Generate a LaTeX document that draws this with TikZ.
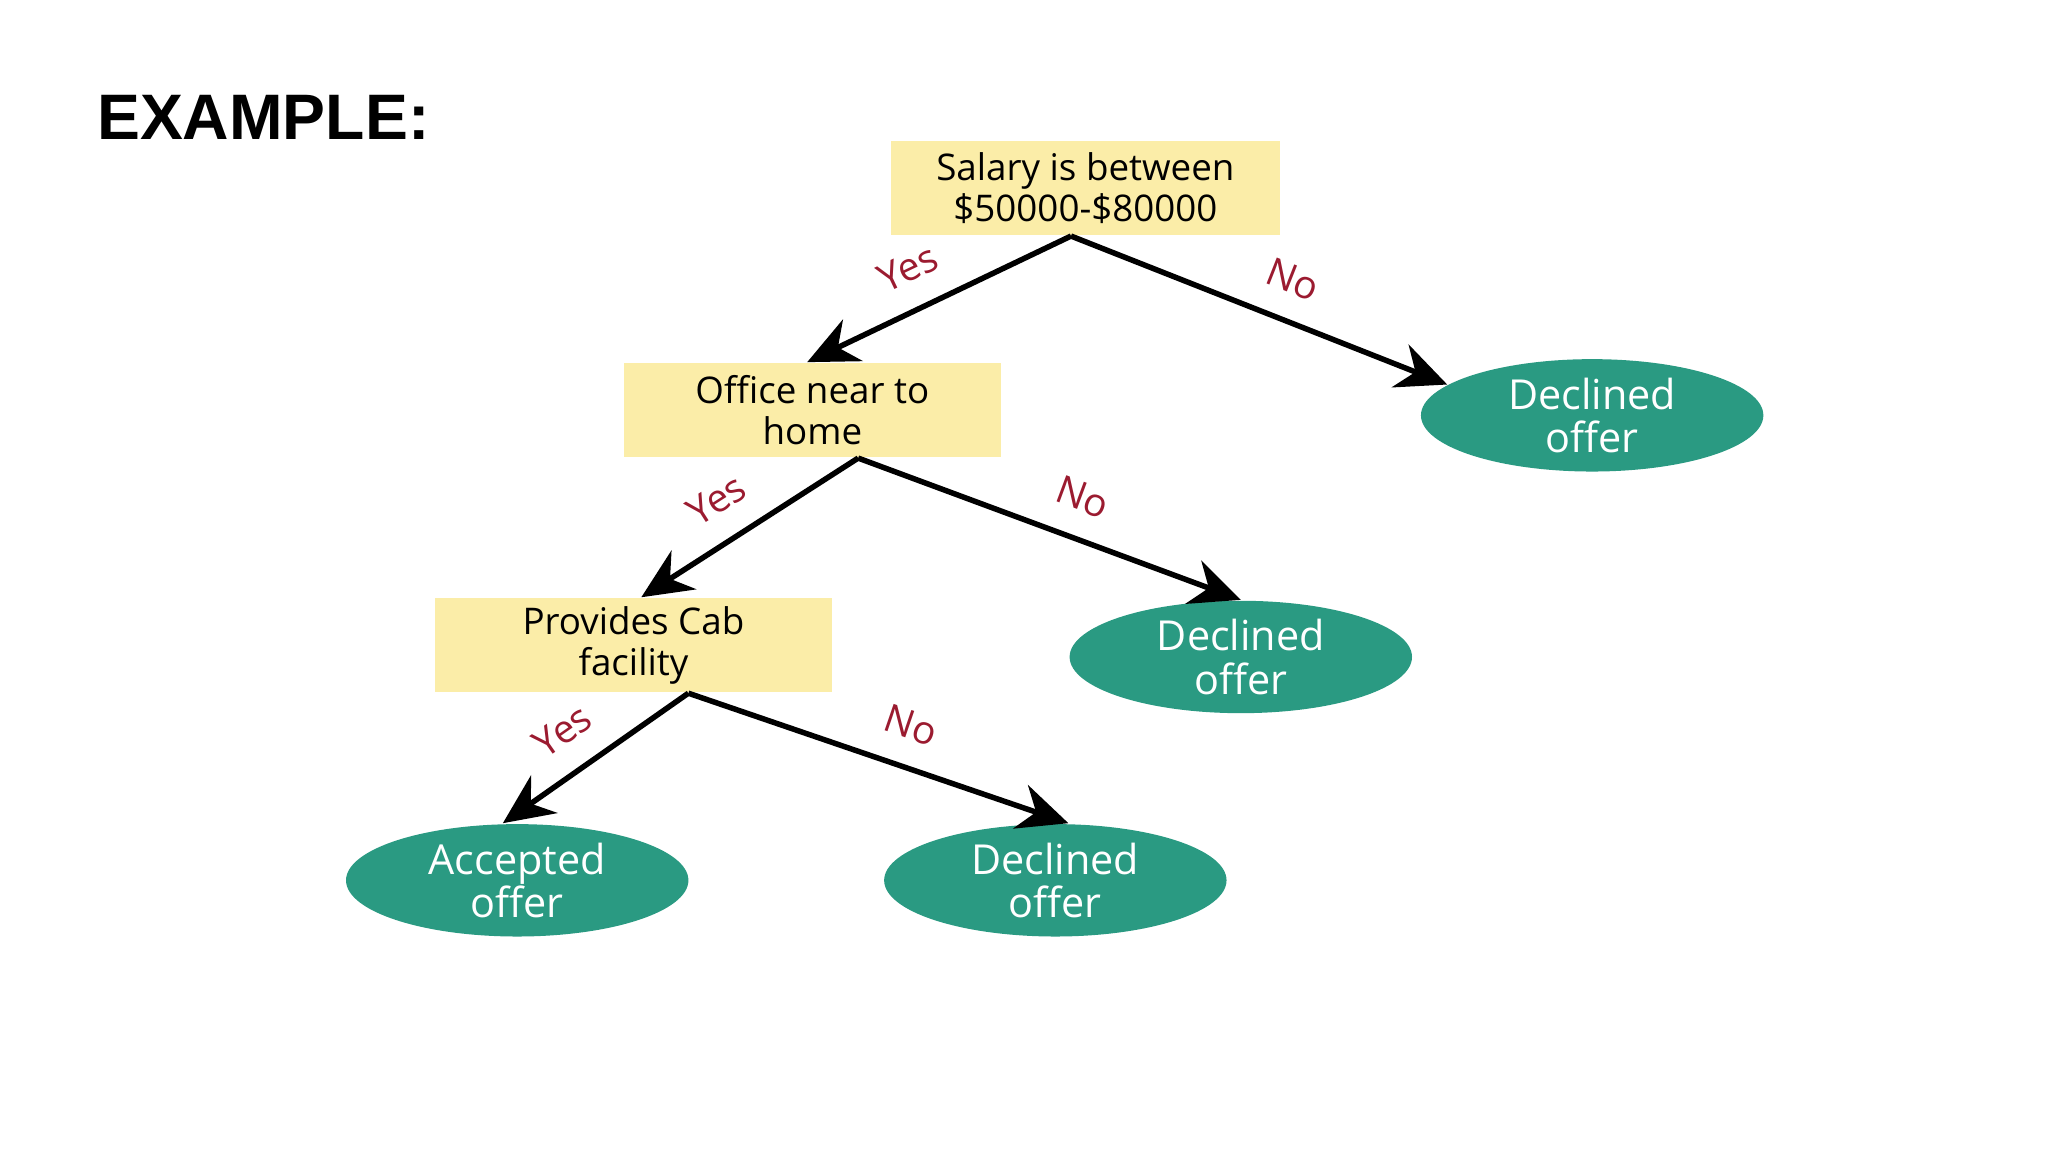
\documentclass[tikz,border=0pt]{standalone}
\usepackage{fontspec}
\setmainfont{Open Sans}
\newfontfamily\titlefont{Liberation Sans}
\usetikzlibrary{arrows.meta,shapes.geometric}
\definecolor{boxy}{HTML}{FBEDA8}
\definecolor{teal2}{HTML}{2A9A82}
\definecolor{lab}{HTML}{9B1B30}
\tikzset{
 qbox/.style={fill=boxy,minimum width=2.98cm,minimum height=0.72cm,align=center,font=\fontsize{8}{9}\selectfont,inner sep=0pt},
 leaf/.style={ellipse,fill=teal2,minimum width=2.62cm,minimum height=0.86cm,align=center,text=white,font=\fontsize{9}{9.5}\selectfont,inner sep=0pt},
 edge/.style={line width=1.2pt,-{Stealth[length=11pt,width=10pt]}},
 lbl/.style={text=lab,font=\fontsize{8.5}{10}\selectfont,sloped,above=2pt,pos=0.5}
}
\begin{document}
\begin{tikzpicture}[x=0.01cm,y=-0.01cm]
\useasboundingbox (0,0) rectangle (1568,882);
\node[anchor=west,font=\titlefont\bfseries\fontsize{14}{17}\selectfont] (t) at (62,90) {EXAMPLE:};
\node[qbox] (b1) at (831,144) {Salary is between\\\$50000-\$80000};
\node[qbox,minimum width=2.88cm] (b2) at (622,314) {Office near to\\home};
\node[qbox,minimum width=3.04cm] (b3) at (485,494) {Provides Cab\\facility};
\node[leaf] (d1) at (1219,318) {Declined\\offer};
\node[leaf] (d2) at (950,503) {Declined\\offer};
\node[leaf] (a1) at (396,674) {Accepted\\offer};
\node[leaf] (d3) at (808,674) {Declined\\offer};
\draw[edge] ([xshift=-0.11cm]b1.south) -- ([xshift=-0.04cm]b2.north) node[lbl,pos=0.55] {Yes};
\draw[edge] ([xshift=-0.11cm]b1.south) -- (d1.168) node[lbl,pos=0.55] {No};
\draw[edge] ([xshift=0.35cm]b2.south) -- ([xshift=0.06cm]b3.north) node[lbl,pos=0.55] {Yes};
\draw[edge] ([xshift=0.35cm]b2.south) -- (d2.north) node[lbl,pos=0.55] {No};
\draw[edge] ([xshift=0.42cm]b3.south) -- ([xshift=-0.11cm]a1.north) node[lbl,pos=0.55] {Yes};
\draw[edge] ([xshift=0.42cm]b3.south) -- ([xshift=0.1cm]d3.north) node[lbl,pos=0.55] {No};
\end{tikzpicture}
\end{document}
